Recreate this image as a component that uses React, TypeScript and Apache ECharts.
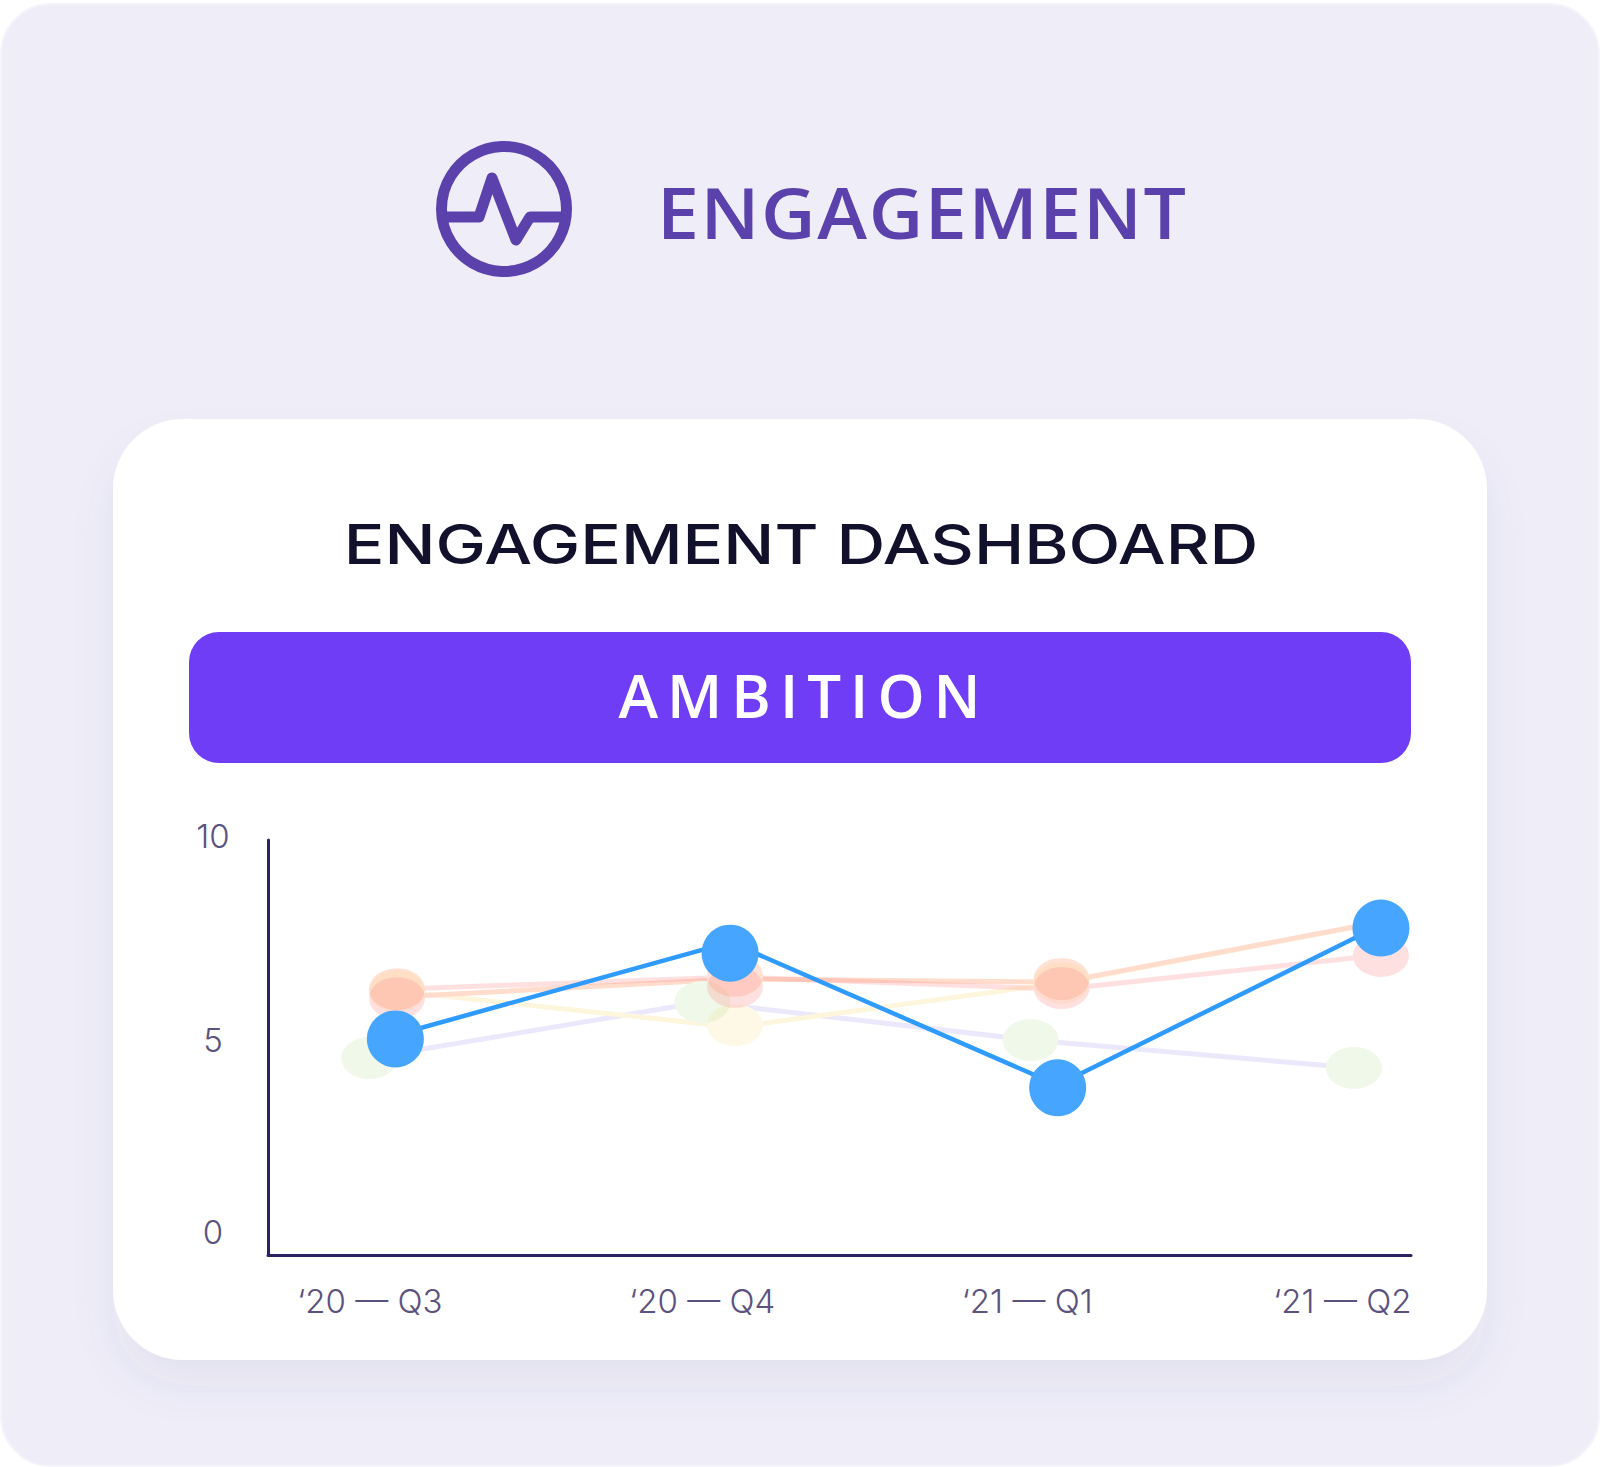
import React, { useEffect, useRef } from "react";
import * as echarts from "echarts";

const quarterLabels = ["‘20 — Q3", "‘20 — Q4", "‘21 — Q1", "‘21 — Q2"];
const quarterLabelPositions = [-0.088, 0.93, 1.925, 2.89];
const valueLabels = ["0", "5", "10"];
const valueLabelPositions = [0, 4.9, 10];

const frontX = [-0.01, 1.015, 2.018, 3.008];
const sideX = [-0.005, 1.03, 2.03, 3.008];
const lilacX = [-0.09, 0.93, 1.935, 2.925];

// The reference draws each polyline slightly off the centres of its discs,
// so lines and discs carry their own values.
const blueLine = [5.02, 7.39, 3.74, 7.83];
const blueMarks = [4.92, 7.11, 3.67, 7.75];
const orangeLine = [5.99, 6.45, 6.37, 7.91];
const orangeMarks = [6.19, 6.53, 6.45, 7.73];
const pinkLine = [6.19, 6.5, 6.19, 7.06];
const pinkMarks = [5.96, 6.25, 6.22, 7.04];
const yellowLine = [6.14, 5.22, 6.35, 7.9];
const yellowMarks = [6.14, 5.27, 6.35, 7.7];
const lilacLine = [4.43, 5.86, 4.89, 4.18];
const lilacMarks = [4.43, 5.86, 4.89, 4.18];

const pairs = (xs: number[], ys: number[]) => xs.map((x, i) => [x, ys[i]]);
const ELLIPSE = "path://M0,21A28,21,0,1,1,56,21A28,21,0,1,1,0,21Z";
const PURPLE = "#5A41AB";
const AXIS = "#2C2260";
const LABEL = "#5B5280";

function lineOf(name: string, xs: number[], ys: number[], color: string, width: number, z: number) {
  return {
    name: name + " line",
    type: "line",
    data: pairs(xs, ys),
    z,
    symbol: "none",
    lineStyle: { color, width },
    emphasis: { disabled: true },
  };
}

function paleMarks(name: string, xs: number[], ys: number[], color: string, z: number) {
  return {
    name: name + " marks",
    type: "scatter",
    data: pairs(xs, ys),
    z,
    symbol: ELLIPSE,
    symbolKeepAspect: false,
    symbolSize: [56, 42],
    itemStyle: { color, opacity: 1 },
    emphasis: { disabled: true },
  };
}

const paleSets: [string, number[], number[], number[], string, string][] = [
  ["Lilac", lilacX, lilacLine, lilacMarks, "#ECE8FB", "rgba(150,210,110,0.15)"],
  ["Yellow", sideX, yellowLine, yellowMarks, "#FDF6DC", "rgba(250,220,100,0.16)"],
  ["Orange", sideX, orangeLine, orangeMarks, "#FFDCCB", "rgba(255,160,120,0.3)"],
  ["Pink", sideX, pinkLine, pinkMarks, "rgba(255,130,130,0.25)", "rgba(255,130,130,0.25)"],
];

export default function App() {
  const ref = useRef<HTMLDivElement>(null);
  useEffect(() => {
    const chart = echarts.init(ref.current!, null, { renderer: "svg" });
    chart.setOption({
      animation: false,
      backgroundColor: "#ffffff",
      grid: { left: 268, right: 189, top: 840, bottom: 212, containLabel: false },
      xAxis: {
        type: "value",
        min: -0.4,
        max: 3.1,
        axisLine: { show: true, onZero: false, lineStyle: { color: AXIS, width: 3 } },
        axisTick: { show: false },
        splitLine: { show: false },
        axisLabel: {
          customValues: quarterLabelPositions,
          formatter: (v: number) => quarterLabels[quarterLabelPositions.indexOf(v)],
          color: LABEL,
          fontFamily: "Inter",
          fontWeight: 300,
          fontSize: 33,
          margin: 29,
          hideOverlap: false,
        },
      },
      yAxis: {
        type: "value",
        min: -0.6,
        max: 10,
        axisLine: { show: true, onZero: false, lineStyle: { color: AXIS, width: 3 } },
        axisTick: { show: false },
        splitLine: { show: false },
        axisLabel: {
          customValues: valueLabelPositions,
          formatter: (v: number) => {
            const text = valueLabels[valueLabelPositions.indexOf(v)];
            return v === 10 ? "{top|" + text + "}" : text;
          },
          rich: {
            top: { color: LABEL, fontFamily: "Inter", fontWeight: 300, fontSize: 33, padding: [0, 0, 8, 0] },
          },
          color: LABEL,
          fontFamily: "Inter",
          fontWeight: 300,
          fontSize: 33,
          margin: 55,
          align: "center",
        },
      },
      graphic: [
        { type: "rect", z: -30, shape: { x: 1, y: 4, width: 1598, height: 1462, r: 50 }, style: { fill: "#EFEEF8", stroke: "#F5F4FB", lineWidth: 2 } },
        { type: "rect", z: -20, shape: { x: 113, y: 419, width: 1374, height: 941, r: 70 }, style: { fill: "#ffffff", shadowBlur: 40, shadowColor: "rgba(70,60,130,0.07)", shadowOffsetY: 26 } },
        { type: "rect", z: -10, shape: { x: 189, y: 632, width: 1222, height: 131, r: 30 }, style: { fill: "#6E3DF5" } },
        { type: "circle", z: -10, shape: { cx: 504, cy: 209, r: 62.5 }, style: { fill: "none", stroke: PURPLE, lineWidth: 11 } },
        {
          type: "polyline",
          z: -10,
          shape: { points: [[446, 217], [479, 217], [492, 178], [516, 240], [530, 217], [563, 217]] },
          style: { fill: "none", stroke: PURPLE, lineWidth: 11, lineJoin: "round" },
        },
        {
          type: "text",
          z: -10,
          x: 657,
          y: 211,
          scaleX: 1.06,
          style: { text: "ENGAGEMENT", fill: PURPLE, font: "600 71px 'Open Sans'", textVerticalAlign: "middle" },
        },
        {
          type: "text",
          z: -10,
          x: 801,
          y: 544,
          scaleX: 1.2275,
          style: { text: "ENGAGEMENT DASHBOARD", fill: "#12112B", font: "500 55px Inter", textAlign: "center", textVerticalAlign: "middle" },
        },
        {
          type: "text",
          z: -5,
          x: 804,
          y: 695,
          style: { text: "AMBITION", fill: "#ffffff", font: "600 60px 'Open Sans'", textAlign: "center", textVerticalAlign: "middle" },
        },
      ],
      series: [
        ...paleSets.map(([n, xs, line, , color]) => lineOf(n, xs, line, color, 5, 3)),
        ...paleSets.map(([n, xs, , marks]) => paleMarks(n + " base", xs, marks, "#ffffff", 4)),
        ...paleSets.map(([n, xs, , marks, , fill]) => paleMarks(n, xs, marks, fill, 5)),
        lineOf("Blue", frontX, blueLine, "#2F9BFF", 4.5, 6),
        {
          name: "Blue marks",
          type: "scatter",
          data: pairs(frontX, blueMarks),
          z: 7,
          symbol: "circle",
          symbolSize: 57,
          itemStyle: { color: "#46A6FF", opacity: 1 },
          emphasis: { disabled: true },
        },
      ],
    });
    const spacing: Record<string, string> = { AMBITION: "9px", ENGAGEMENT: "1.5px" };
    ref.current!.querySelectorAll("text").forEach((t) => {
      const s = spacing[t.textContent || ""];
      if (s) t.style.letterSpacing = s;
    });
    return () => chart.dispose();
  }, []);
  return <div ref={ref} style={{ position: "absolute", left: 0, top: 0, width: 1600, height: 1467 }} />;
}
